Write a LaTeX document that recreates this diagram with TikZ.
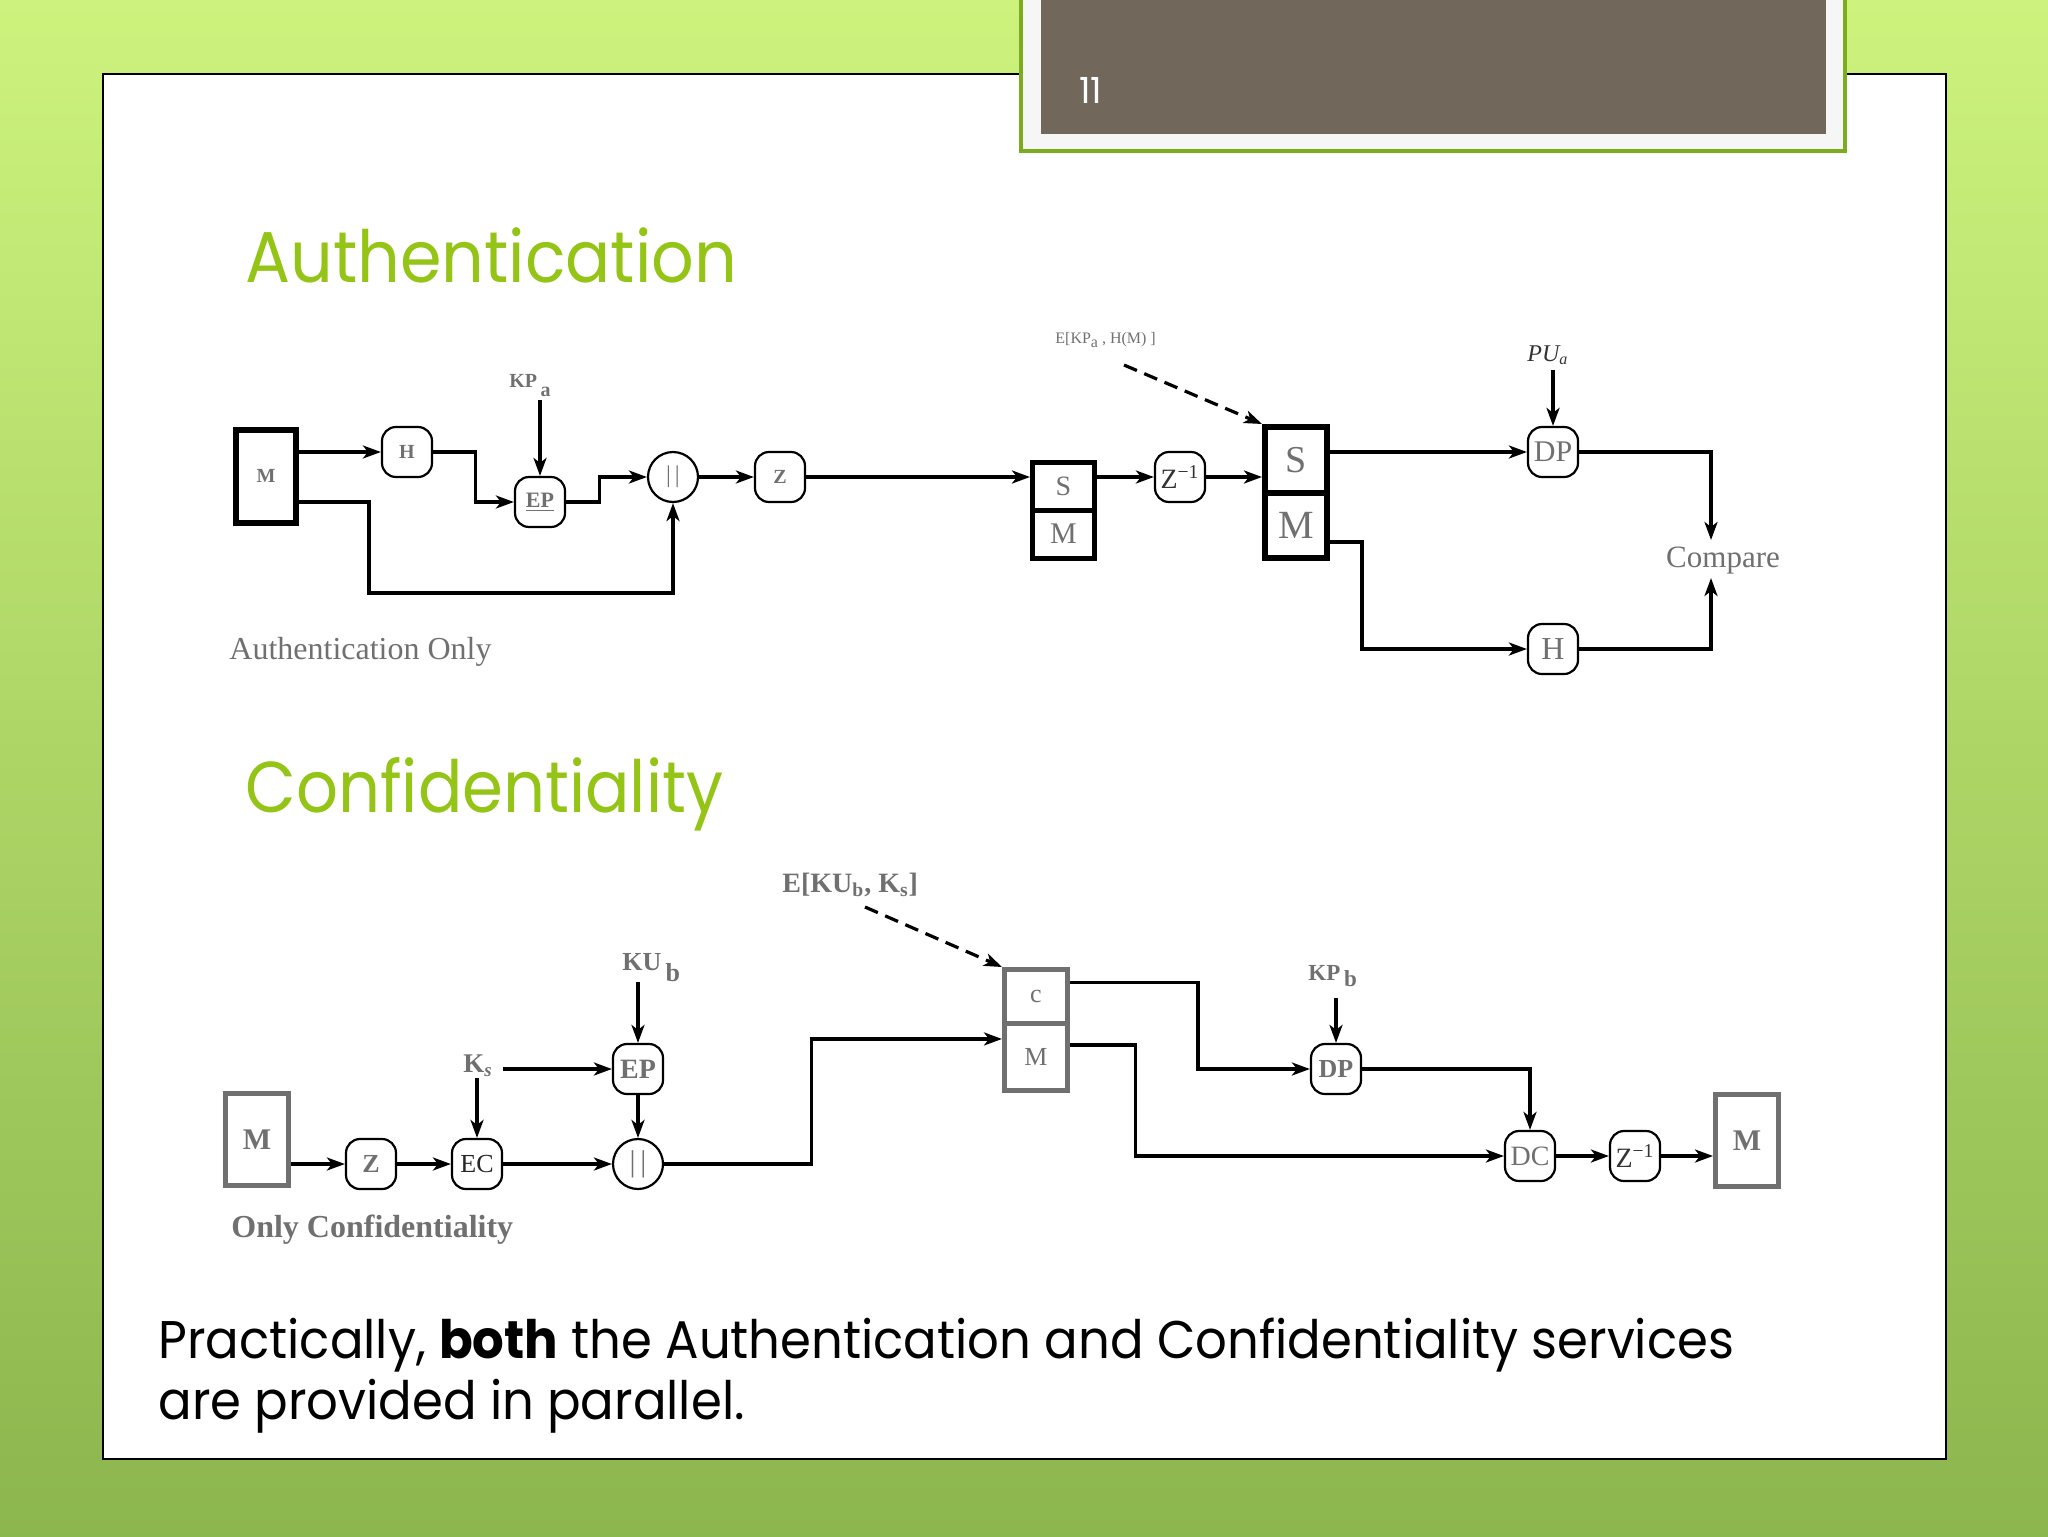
\documentclass[tikz,border=0pt]{standalone}
\usepackage{fontspec}
\setmainfont{Poppins}
\newfontfamily\tms{Liberation Serif}
\usetikzlibrary{arrows.meta,calc}
\definecolor{txtgray}{RGB}{112,112,112}
\definecolor{boxgray}{RGB}{112,112,112}
\definecolor{titlegreen}{RGB}{148,196,22}
\definecolor{tabgreen}{RGB}{122,172,30}
\definecolor{tabinner}{RGB}{246,246,246}
\definecolor{tabbrown}{RGB}{113,103,90}
\definecolor{bgtop}{RGB}{205,243,125}
\definecolor{bgbot}{RGB}{140,182,78}
\newcommand\myfs[1]{\fontsize{#1}{#1}\selectfont}
\tikzset{
  conn/.style={line width=1.6pt,-{Stealth[length=9pt,width=6.5pt,inset=2.5pt]}},
  dashconn/.style={conn,dash pattern=on 7pt off 4pt},
  rnode/.style={draw,line width=1.1pt,rounded corners=7pt,minimum size=25pt,inner sep=0pt,text=txtgray},
  cnode/.style={draw,circle,line width=1.1pt,minimum size=25pt,inner sep=0pt,text=txtgray},
  mbox/.style={draw,rectangle,inner sep=0pt,text=txtgray},
  cell/.style={draw,rectangle,inner sep=0pt,text=txtgray},
  lbl/.style={inner sep=0pt,text=txtgray},
}
\begin{document}
\begin{tikzpicture}[x=0.5pt,y=-0.5pt]
\useasboundingbox (0,0) rectangle (2048,1536);
\shade[top color=bgtop,bottom color=bgbot] (0,0) rectangle (2048,1536);
\draw[fill=white,line width=1pt] (103,74) rectangle (1946,1459);
\draw[fill=tabinner,draw=tabgreen,line width=2pt] (1021,-10) rectangle (1845,151);
\fill[tabbrown] (1041,-10) rectangle (1826,134);
\node[anchor=base west,inner sep=0pt,text=white,font=\myfs{18}] (pagenum) at (1079,104) {11};

% titles
\node[anchor=base west,inner sep=0pt,text=titlegreen,font=\myfs{36}] (t1) at (245,282) {\scalebox{0.928}[1]{Authentication}};
\node[anchor=base west,inner sep=0pt,text=titlegreen,font=\myfs{36}] (t2) at (245,812) {\scalebox{0.913}[1]{Confidentiality}};
\node[anchor=base west,inner sep=0pt,font=\myfs{26.5}] (b1) at (158,1358) {\scalebox{0.938}[1]{Practically, \textbf{both} the Authentication and Confidentiality services}};
\node[anchor=base west,inner sep=0pt,font=\myfs{26.5}] (b2) at (158,1419) {\scalebox{0.938}[1]{are provided in parallel.}};

% ---------- Authentication ----------
\node[mbox,line width=3pt,minimum width=30pt,minimum height=46.5pt,font=\tms\bfseries\myfs{10}] (MA) at (266,476) {M};
\node[rnode,font=\tms\bfseries\myfs{10}] (HA) at (407,452) {H};
\node[rnode,font=\tms\bfseries\myfs{11}] (EPA) at (540,502) {\underline{EP}};
\node[cnode,font=\tms\myfs{12}] (CatA) at (673,477) {|\,|};
\node[rnode,font=\tms\bfseries\myfs{10}] (ZA) at (780,477) {Z};
\node[cell,line width=2.5pt,minimum width=31pt,minimum height=24pt,font=\tms\myfs{14}] (S1) at (1063.5,486) {S};
\node[cell,line width=2.5pt,minimum width=31pt,minimum height=24pt,font=\tms\myfs{15}] (M1) at (1063.5,534) {M};
\node[rnode,font=\tms\myfs{14},text=black!80] (ZiA) at (1180,477) {Z\textsuperscript{−1}};
\node[cell,line width=3pt,minimum width=31pt,minimum height=33pt,font=\tms\myfs{19}] (S2) at (1296,460) {S};
\node[cell,line width=3pt,minimum width=31pt,minimum height=32.5pt,font=\tms\myfs{20}] (M2) at (1296,525.5) {M};
\node[rnode,font=\tms\myfs{15}] (DPA) at (1553,452) {DP};
\node[rnode,font=\tms\myfs{16}] (HB) at (1553,649) {H};
\node[lbl,anchor=base,font=\tms\myfs{15.5}] (Cmp) at (1723,567) {Compare};
\node[lbl,anchor=base west,font=\tms\bfseries\myfs{10}] (KPa) at (509,387) {KP\,\raisebox{-0.45em}{a}};
\node[lbl,anchor=base west,font=\tms\myfs{8}] (EKPa) at (1055,343) {E[KP\raisebox{-0.3em}{a} , H(M) ]};
\node[lbl,anchor=base west,font=\tms\itshape\myfs{12},text=black!80] (PUa) at (1527,361) {PU\textsubscript{a}};
\node[lbl,anchor=base west,font=\tms\myfs{16}] (AOnly) at (229,659) {Authentication Only};

\coordinate (kpaS) at (540,400);
\coordinate (dA) at (1124,365);
\coordinate (puS) at (1553,370);
\coordinate (cmpT) at (1711,540);
\coordinate (cmpB) at (1711,578);

\draw[conn] (MA.east |- HA) -- (HA.west);
\draw[conn] (HA.east) -- ++(42,0) |- (EPA.west);
\draw[conn] (EPA.east) -- ++(33,0) |- (CatA.west);
\draw[conn] (MA.east |- EPA) -- ++(70,0) -- ++(0,91) -| (CatA.south);
\draw[conn] (kpaS) -- (EPA.north);
\draw[conn] (CatA) -- (ZA);
\draw[conn] (ZA.east) -- (ZA.east -| S1.west);
\draw[conn] (S1.east |- ZiA) -- (ZiA.west);
\draw[conn] (ZiA.east) -- (ZiA.east -| S2.west);
\draw[dashconn] (dA) -- (S2.north west);
\draw[conn] (S2.east |- DPA) -- (DPA.west);
\draw[conn] (puS) -- (DPA.north);
\draw[conn] (DPA.east) -| (cmpT);
\draw[conn] ([yshift=-8.25pt]M2.east) -- ++(32,0) |- (HB.west);
\draw[conn] (HB.east) -| (cmpB);

% ---------- Confidentiality ----------
\node[mbox,draw=boxgray,line width=2.5pt,minimum width=31.5pt,minimum height=46pt,font=\tms\bfseries\myfs{15}] (MC) at (257,1139.5) {M};
\node[rnode,font=\tms\bfseries\myfs{13}] (ZC) at (371,1164) {Z};
\node[rnode,font=\tms\myfs{13},text=black!85] (ECc) at (477,1164) {EC};
\node[rnode,font=\tms\bfseries\myfs{14}] (EPC) at (638,1069) {EP};
\node[cnode,font=\tms\myfs{15}] (CatC) at (638,1164) {|\,|};
\node[cell,draw=boxgray,line width=2.5pt,minimum width=31.5pt,minimum height=26.75pt,font=\tms\myfs{13}] (cC) at (1036,996.25) {c};
\node[cell,draw=boxgray,line width=2.5pt,minimum width=31.5pt,minimum height=33.75pt,font=\tms\myfs{13}] (MMc) at (1036,1056.75) {M};
\node[rnode,font=\tms\bfseries\myfs{13}] (DPC) at (1336,1069) {DP};
\node[rnode,font=\tms\myfs{14}] (DCc) at (1530,1156) {DC};
\node[rnode,font=\tms\myfs{14},text=black!80] (ZiC) at (1635,1156) {Z\textsuperscript{−1}};
\node[mbox,draw=boxgray,line width=2.5pt,minimum width=31.5pt,minimum height=46pt,font=\tms\bfseries\myfs{15}] (MR) at (1747,1140.5) {M};
\node[lbl,anchor=base west,font=\tms\bfseries\myfs{13.5}] (Ks) at (463,1072) {K\textsubscript{\itshape s}};
\node[lbl,anchor=base west,font=\tms\bfseries\myfs{13}] (KUb) at (622,970) {KU\,\raisebox{-0.45em}{b}};
\node[lbl,anchor=base west,font=\tms\bfseries\myfs{14}] (EKU) at (782,892) {E[KU\textsubscript{b}, K\textsubscript{s}]};
\node[lbl,anchor=base west,font=\tms\bfseries\myfs{11.5}] (KPb) at (1308,980) {KP\,\raisebox{-0.3em}{b}};
\node[lbl,anchor=base west,font=\tms\bfseries\myfs{16}] (COnly) at (231,1237) {Only Confidentiality};

\coordinate (ksS) at (477,1078);
\coordinate (ksE) at (503,1069);
\coordinate (kuS) at (638,982);
\coordinate (dC) at (865,907);
\coordinate (kpbS) at (1336,998);

\draw[conn] (MC.east |- ZC) -- (ZC.west);
\draw[conn] (ZC) -- (ECc);
\draw[conn] (ECc) -- (CatC);
\draw[conn] (ksS) -- (ECc.north);
\draw[conn] (ksE) -- (EPC.west);
\draw[conn] (kuS) -- (EPC.north);
\draw[conn] (EPC) -- (CatC);
\draw[conn] (CatC.east) -- ++(147,0) |- ([yshift=8.9pt]MMc.west);
\draw[dashconn] (dC) -- (cC.north west);
\draw[conn] ([yshift=7pt]cC.east) -- ++(128,0) |- (DPC.west);
\draw[conn] (kpbS) -- (DPC.north);
\draw[conn] (DPC.east) -| (DCc.north);
\draw[conn] ([yshift=5.9pt]MMc.east) -- ++(65.5,0) |- (DCc.west);
\draw[conn] (DCc) -- (ZiC);
\draw[conn] (ZiC.east) -- (ZiC.east -| MR.west);
\end{tikzpicture}
\end{document}
